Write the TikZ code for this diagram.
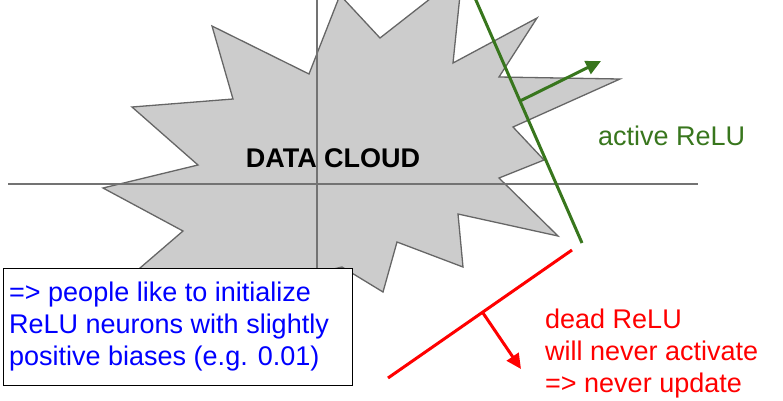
\documentclass[tikz,border=0pt]{standalone}
\usepackage{fontspec}
\setmainfont{Liberation Sans}
\usetikzlibrary{arrows.meta}
\definecolor{gr}{RGB}{56,118,29}
\begin{document}
\begin{tikzpicture}[x=1pt,y=-1pt,
  axis/.style={draw=gray!90!black,line width=1.5pt},
  lbl/.style={anchor=west,font=\fontsize{27}{32}\selectfont,align=left,inner sep=0pt}]
\useasboundingbox (0,0) rectangle (783,400);
\begin{scope}
\clip (0,0) rectangle (783,400);
\fill[gray!40,draw=gray!80!black,line width=1.3pt] (309,74)--(340,-5)--(380,38)--(435,-5)--(460,-5)--(453,63)--(537,18)--(499,77)--(620,79)--(513,127)--(544,160)--(499,178)--(558,236)--(458,214)--(463,267)--(397,242)--(383,292)--(342,267)--(200,300)--(140,268)--(183,231)--(103,188)--(198,165)--(132,107)--(233,99)--(212,26)--cycle;
\end{scope}
\draw[axis] (8,184) -- (698,184);
\draw[axis] (317,0) -- (317,270);
\node[font=\fontsize{27}{30}\selectfont\bfseries] (dc) at (333,158) {DATA CLOUD};
\coordinate (g1) at (475,-2); \coordinate (g2) at (582,243);
\draw[gr,line width=3pt] (g1) -- (g2);
\coordinate (ga) at (520,101); \coordinate (gb) at (601,61);
\draw[gr,line width=3pt,-{Triangle[length=15pt,width=14pt]}] (ga) -- (gb);
\node[lbl,text=gr] (al) at (598,136) {active ReLU};
\coordinate (r1) at (388,378); \coordinate (r2) at (572,250);
\draw[red,line width=3pt] (r1) -- (r2);
\coordinate (ra) at (483,313); \coordinate (rb) at (521,369);
\draw[red,line width=3pt,-{Triangle[length=15pt,width=14pt]}] (ra) -- (rb);
\node[lbl,text=red] (dl) at (545,354) {dead ReLU\\will never activate\\=> never update};
\node[draw=black,fill=white,line width=1.3pt,minimum width=349pt,minimum height=117pt,anchor=north west,inner sep=0pt] (box) at (3,268) {};
\node[lbl,text=blue] (bt) at (9,327) {=> people like to initialize\\ReLU neurons with slightly\\positive biases (e.g. 0.01)};
\end{tikzpicture}
\end{document}
